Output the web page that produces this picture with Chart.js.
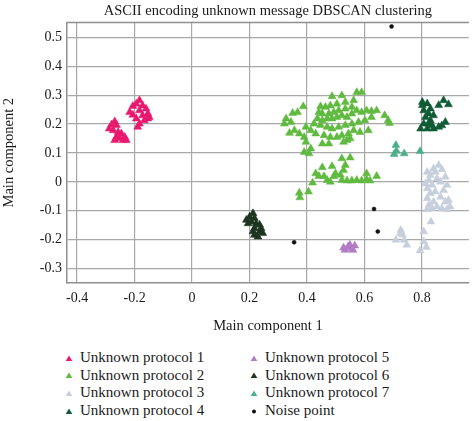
<!DOCTYPE html>
<html>
<head>
<meta charset="utf-8">
<script src="https://cdn.jsdelivr.net/npm/chart.js@4.4.0/dist/chart.umd.min.js"></script>
<style>
  html, body { margin: 0; padding: 0; background: #fff; }
  #wrap { position: relative; width: 474px; height: 421px; overflow: hidden; }
  #box { position: absolute; left: 0; top: 0; width: 474px; height: 340px; }
  #legend {
    position: absolute; left: 65px; top: 349px;
    display: grid; grid-auto-flow: column;
    grid-template-rows: repeat(4, 17.6px); grid-template-columns: 185px 200px;
    font-family: "Liberation Serif", "Times New Roman", serif; font-size: 15px; color: #1a1a1a;
  }
  .item { display: flex; align-items: center; line-height: 17.6px; white-space: nowrap; }
  .item svg { width: 8px; height: 8px; margin-right: 7px; flex: none; }
</style>
</head>
<body>
<div id="wrap">
  <div id="box"><canvas id="myChart"></canvas></div>
  <div id="legend"></div>
</div>
<script>
const seriesLabels = [
  "Unknown protocol 1", "Unknown protocol 2", "Unknown protocol 3", "Unknown protocol 4",
  "Unknown protocol 5", "Unknown protocol 6", "Unknown protocol 7", "Noise point"
];
const xTickStep = 0.2;
const yTickStep = 0.1;

// [main component 1, main component 2]
const protocol1 = [
  [-0.183,0.282],[-0.194,0.270],[-0.206,0.262],[-0.172,0.264],[-0.217,0.241],[-0.183,0.247],
  [-0.160,0.253],[-0.154,0.236],[-0.172,0.230],[-0.194,0.219],[-0.166,0.213],[-0.183,0.201],
  [-0.154,0.219],[-0.206,0.232],[-0.189,0.190],[-0.149,0.224],
  [-0.269,0.209],[-0.280,0.198],[-0.263,0.196],[-0.288,0.184],[-0.274,0.178],[-0.257,0.172],
  [-0.246,0.167],[-0.263,0.155],[-0.251,0.150],[-0.234,0.155],[-0.240,0.144],[-0.269,0.144],
  [-0.229,0.144]
];
const protocol2 = [
  [0.487,0.296],[0.521,0.299],[0.573,0.310],[0.590,0.310],[0.387,0.261],[0.350,0.238],
  [0.367,0.241],[0.327,0.219],[0.344,0.207],[0.321,0.201],[0.356,0.178],[0.339,0.169],
  [0.373,0.167],[0.396,0.190],[0.390,0.155],[0.396,0.138],[0.413,0.115],[0.390,0.103],
  [0.407,0.098],[0.447,0.261],[0.464,0.259],[0.481,0.264],[0.504,0.270],[0.533,0.276],
  [0.562,0.282],[0.441,0.241],[0.453,0.236],[0.476,0.236],[0.493,0.241],[0.510,0.247],
  [0.533,0.253],[0.556,0.259],[0.573,0.247],[0.590,0.241],[0.607,0.247],[0.624,0.245],
  [0.642,0.247],[0.556,0.236],[0.539,0.224],[0.521,0.230],[0.504,0.224],[0.487,0.219],
  [0.470,0.219],[0.453,0.213],[0.436,0.219],[0.424,0.201],[0.447,0.196],[0.470,0.190],
  [0.487,0.184],[0.510,0.190],[0.533,0.196],[0.556,0.201],[0.579,0.207],[0.601,0.213],
  [0.624,0.224],[0.670,0.230],[0.682,0.213],[0.687,0.203],[0.613,0.178],[0.584,0.172],
  [0.562,0.178],[0.544,0.167],[0.521,0.161],[0.504,0.155],[0.481,0.155],[0.459,0.161],
  [0.430,0.167],[0.413,0.178],[0.453,0.132],[0.476,0.132],[0.527,0.138],[0.539,0.144],
  [0.550,0.150],
  [0.521,0.081],[0.550,0.084],[0.453,0.050],[0.487,0.054],[0.533,0.058],[0.527,0.040],
  [0.430,0.029],[0.441,0.020],[0.459,0.019],[0.470,0.006],[0.481,0.000],[0.499,0.029],
  [0.493,0.019],[0.516,0.024],[0.521,0.006],[0.539,0.004],[0.556,0.004],[0.573,0.006],
  [0.590,0.004],[0.607,0.029],[0.607,0.008],[0.619,0.004],[0.642,0.020],[0.419,-0.003],
  [0.373,-0.038],[0.405,-0.034],[0.375,-0.054]
];
const protocol3 = [
  [0.858,0.058],[0.840,0.046],[0.869,0.043],[0.818,0.034],[0.829,0.023],[0.881,0.017],
  [0.852,0.011],[0.824,0.006],[0.864,0.000],[0.835,-0.011],[0.818,-0.023],[0.875,-0.029],
  [0.846,-0.034],[0.829,-0.040],[0.864,-0.052],[0.818,-0.057],[0.892,-0.063],[0.840,-0.069],
  [0.881,-0.069],[0.824,-0.080],[0.852,-0.086],[0.898,-0.086],[0.818,-0.095],[0.869,-0.092],
  [0.835,-0.092],[0.887,-0.095],[0.812,-0.006],[0.887,-0.011],[0.846,0.034],
  [0.831,-0.138],[0.726,-0.167],[0.725,-0.178],[0.732,-0.183],[0.709,-0.201],[0.738,-0.201],
  [0.747,-0.218],[0.806,-0.172],[0.806,-0.207],[0.815,-0.226],[0.793,-0.238]
];
const protocol4 = [
  [0.801,0.276],[0.818,0.271],[0.875,0.282],[0.892,0.268],[0.858,0.265],[0.829,0.253],
  [0.806,0.247],[0.823,0.236],[0.840,0.230],[0.812,0.224],[0.829,0.213],[0.806,0.201],
  [0.835,0.195],[0.881,0.207],[0.869,0.195],[0.795,0.184],[0.818,0.184],[0.840,0.184],
  [0.858,0.190],[0.823,0.201],[0.801,0.265]
];
const protocol5 = [
  [0.532,-0.236],[0.543,-0.224],[0.555,-0.230],[0.566,-0.221],[0.527,-0.228],[0.560,-0.236],
  [0.549,-0.218]
];
const protocol6 = [
  [0.212,-0.109],[0.200,-0.121],[0.189,-0.132],[0.217,-0.126],[0.206,-0.138],[0.195,-0.144],
  [0.223,-0.144],[0.235,-0.149],[0.217,-0.161],[0.240,-0.161],[0.212,-0.172],[0.235,-0.172],
  [0.217,-0.184],[0.229,-0.190],[0.246,-0.178]
];
const protocol7 = [
  [0.709,0.127],[0.703,0.096],[0.738,0.098],[0.793,0.106],[0.711,0.107]
];
const noisePoints = [
  [0.633,-0.094],[0.646,-0.172],[0.355,-0.209],[0.694,0.538]
];

const seriesData = [protocol1, protocol2, protocol3, protocol4, protocol5, protocol6, protocol7, noisePoints];
const seriesColors = ["#e8196f", "#5fba3f", "#c6cfdc", "#0e5b35", "#b27cc4", "#1c3420", "#4cae88", "#111111"];

const serif = "'Liberation Serif', 'Times New Roman', serif";
const ink = "#1a1a1a";

const datasets = seriesData.map((pts, i) => {
  const noise = i === seriesData.length - 1;
  return {
    label: seriesLabels[i],
    data: pts.map((p) => ({ x: p[0], y: p[1] })),
    pointStyle: noise ? "circle" : "triangle",
    pointRadius: noise ? 2 : 4.6,
    borderWidth: 0.5,
    backgroundColor: seriesColors[i],
    borderColor: seriesColors[i],
  };
});

// top edge of the frame
const frameTop = {
  id: "frameTop",
  beforeDatasetsDraw(chart) {
    const { ctx, chartArea } = chart;
    ctx.save();
    ctx.strokeStyle = "#8f8f8f";
    ctx.lineWidth = 1.5;
    ctx.beginPath();
    ctx.moveTo(chartArea.left, chartArea.top);
    ctx.lineTo(chartArea.right, chartArea.top);
    ctx.stroke();
    ctx.restore();
  },
};

function tickText(v) {
  const r = Math.round(v * 10) / 10;
  return r === 0 ? "0" : r.toFixed(1);
}

const gridStyle = { color: "#a8a8a8", lineWidth: 1.2, drawTicks: false };

const ctx = document.getElementById("myChart").getContext("2d");
const myChart = new Chart(ctx, {
  type: "scatter",
  data: { datasets: datasets },
  plugins: [frameTop],
  options: {
    responsive: true,
    maintainAspectRatio: false,
    animation: false,
    layout: { padding: 0 },
    plugins: {
      legend: { display: false },
      tooltip: { enabled: false },
      title: {
        display: true,
        text: "ASCII encoding unknown message DBSCAN clustering",
        fullSize: false,
        color: ink,
        font: { family: serif, size: 14.5, weight: "normal" },
        padding: { top: 2, bottom: 3 },
      },
    },
    scales: {
      x: {
        min: -0.435,
        max: 0.963,
        afterFit: (scale) => { scale.height = 57; },
        grid: Object.assign({ borderDash: [1.5, 7] }, gridStyle),
        border: { color: "#8f8f8f", width: 1.5 },
        ticks: {
          stepSize: xTickStep,
          includeBounds: false,
          padding: 6.5,
          color: ink,
          font: { family: serif, size: 14 },
          callback: tickText,
          maxRotation: 0,
        },
        title: {
          display: true,
          text: "Main component 1",
          color: ink,
          font: { family: serif, size: 14.5 },
          padding: { top: 11, bottom: 5 },
        },
      },
      y: {
        min: -0.35,
        max: 0.552,
        afterFit: (scale) => { scale.width = 67; },
        grid: Object.assign({ borderDash: [1.5, 7] }, gridStyle),
        border: { color: "#8f8f8f", width: 1.5 },
        ticks: {
          stepSize: yTickStep,
          includeBounds: false,
          padding: 5,
          color: ink,
          font: { family: serif, size: 14 },
          callback: tickText,
        },
        title: {
          display: true,
          text: "Main component 2",
          color: ink,
          font: { family: serif, size: 14.5 },
          padding: { top: 0, bottom: 0 },
        },
      },
    },
  },
});

// legend, two columns like the figure
const legend = document.getElementById("legend");
myChart.data.datasets.forEach((ds) => {
  const item = document.createElement("div");
  item.className = "item";
  const shape = ds.pointStyle === "circle"
    ? '<circle cx="4" cy="4.5" r="2" fill="' + ds.backgroundColor + '"/>'
    : '<polygon points="4,1.5 7.3,7 0.7,7" fill="' + ds.backgroundColor + '"/>';
  item.innerHTML = '<svg viewBox="0 0 8 8">' + shape + "</svg><span>" + ds.label + "</span>";
  legend.appendChild(item);
});
</script>
</body>
</html>
